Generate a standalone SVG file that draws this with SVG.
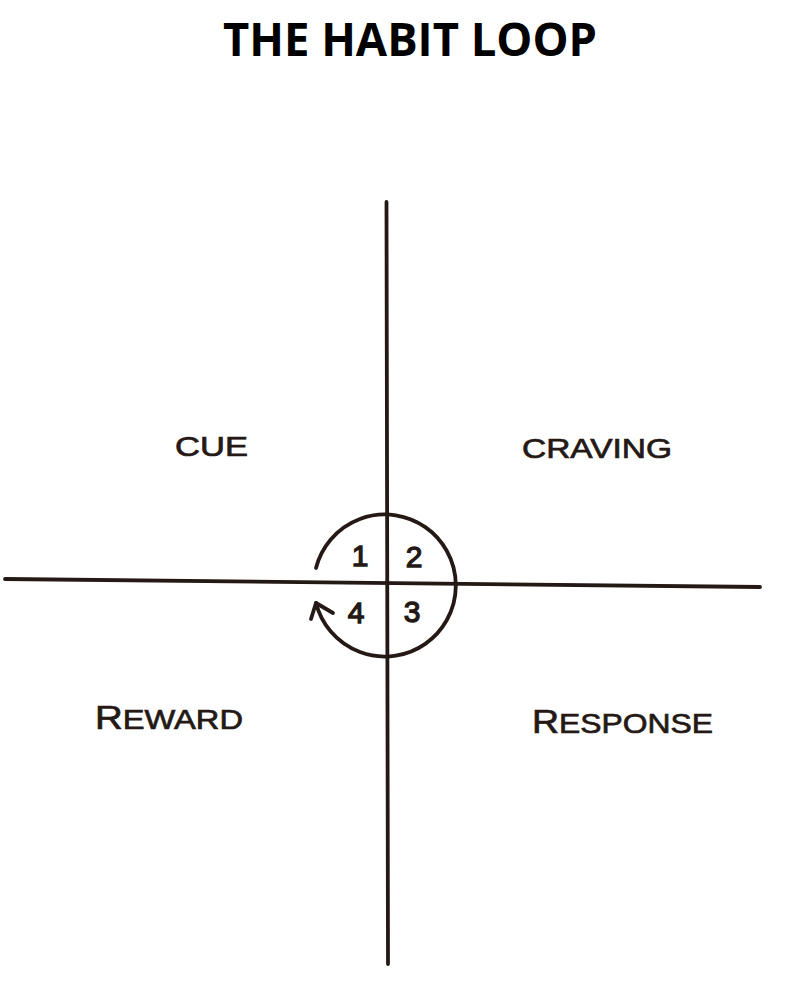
<svg xmlns="http://www.w3.org/2000/svg" width="800" height="988" viewBox="0 0 800 988">
<style>
.ink{stroke:#241915;stroke-width:3.8;fill:none;stroke-linecap:round;stroke-linejoin:round}
.lbl{font-family:"Liberation Sans",Arial,sans-serif;fill:#241915;stroke:#241915;stroke-width:0.7;font-size:28px}
.num{font-family:"Liberation Sans",Arial,sans-serif;fill:#241915;stroke:#241915;stroke-width:1.3;font-size:30px;text-anchor:middle}
.title{font-family:"Open Sans","Liberation Sans",Arial,sans-serif;font-weight:bold;font-size:46px;fill:#000}
</style>
<rect width="800" height="988" fill="#fff"/>
<text class="title" x="223" y="56" textLength="374" lengthAdjust="spacingAndGlyphs">THE HABIT LOOP</text>
<g id="connectors">
<line class="ink" x1="5" y1="579" x2="760" y2="587"/>
<line class="ink" x1="386.5" y1="202" x2="388" y2="964"/>
<path class="ink" d="M316,568 A71,71 0 1 1 316,603"/>
<path class="ink" d="M311,619 L316,603 L333,613"/>
</g>
<g id="cue"><text class="lbl" x="175" y="456" textLength="73" lengthAdjust="spacingAndGlyphs">CUE</text></g>
<g id="craving"><text class="lbl" x="522" y="458" font-size="30" textLength="150" lengthAdjust="spacingAndGlyphs">CRAVING</text></g>
<g id="reward"><text class="lbl" x="95" y="729" textLength="148" lengthAdjust="spacingAndGlyphs"><tspan font-size="33">R</tspan>EWARD</text></g>
<g id="response"><text class="lbl" x="532" y="733" textLength="181" lengthAdjust="spacingAndGlyphs"><tspan font-size="33">R</tspan>ESPONSE</text></g>
<g id="step1"><text class="num" x="360" y="566">1</text></g>
<g id="step2"><text class="num" x="414" y="567">2</text></g>
<g id="step3"><text class="num" x="412" y="622">3</text></g>
<g id="step4"><text class="num" x="356" y="623">4</text></g>
</svg>
